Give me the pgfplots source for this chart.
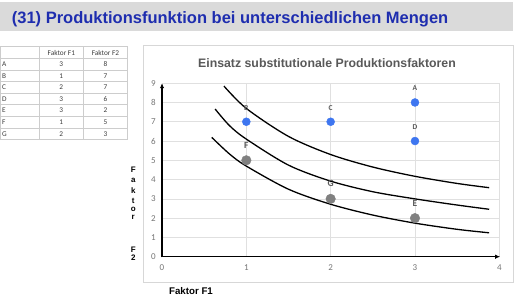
\documentclass[border=0pt]{standalone}
\usepackage{pgfplots}
\pgfplotsset{compat=1.18}
\usetikzlibrary{arrows.meta}
\usepackage{fontspec}
\setmainfont{Liberation Sans}
\newfontfamily\calib{Carlito}
\definecolor{band}{RGB}{218,218,218}
\definecolor{titleblue}{RGB}{30,45,175}
\definecolor{ptblue}{RGB}{62,118,240}
\definecolor{ptgray}{RGB}{128,128,128}
\definecolor{gridc}{RGB}{224,224,224}
\definecolor{framec}{RGB}{215,215,215}
\definecolor{tickc}{RGB}{118,118,118}
\definecolor{txtc}{RGB}{89,89,89}
\definecolor{tabline}{RGB}{205,205,205}
\definecolor{tabtxt}{RGB}{60,60,60}
\begin{document}
\begin{tikzpicture}
\useasboundingbox (0,0) rectangle (514bp,298bp);
% title band
\fill[band] (0,267bp) rectangle (513bp,296bp);
\node[anchor=base west, inner sep=0pt, font=\fontsize{16.5bp}{18bp}\selectfont\bfseries, text=titleblue] at (11.7bp,274bp) {(31) Produktionsfunktion bei unterschiedlichen Mengen};
% table
\foreach \i in {0,...,8} {
  \draw[tabline, line width=0.5bp] (0bp,{(251.3-\i*11.6)*1bp}) -- (127.7bp,{(251.3-\i*11.6)*1bp});
}
\foreach \xx in {0.3,39.3,83.3,127.4} {
  \draw[tabline, line width=0.5bp] ({\xx*1bp},251.3bp) -- ({\xx*1bp},{(251.3-8*11.6)*1bp});
}
\begin{scope}[every node/.style={font=\calib\fontsize{7.3bp}{8.5bp}\selectfont, text=tabtxt, inner sep=0pt}]
\node at (61.3bp,{(251.3-0.5*11.6)*1bp}) {Faktor F1};
\node at (105.5bp,{(251.3-0.5*11.6)*1bp}) {Faktor F2};
\foreach \r/\a/\b [count=\i] in {A/3/8, B/1/7, C/2/7, D/3/6, E/3/2, F/1/5, G/2/3} {
  \node[anchor=west] at (2bp,{(251.3-(\i+0.5)*11.6)*1bp}) {\r};
  \node at (61.3bp,{(251.3-(\i+0.5)*11.6)*1bp}) {\a};
  \node at (105.5bp,{(251.3-(\i+0.5)*11.6)*1bp}) {\b};
}
\end{scope}
% chart frame
\draw[framec, line width=0.8bp, fill=white] (143bp,16bp) rectangle (513bp,253bp);
\node[font=\fontsize{12.3bp}{14bp}\selectfont\bfseries, text=txtc] at (327bp,235.3bp) {Einsatz substitutionale Produktionsfaktoren};
% y label letters
\begin{scope}[every node/.style={font=\fontsize{8bp}{9bp}\selectfont\bfseries, text=black, inner sep=0pt}]
\node at (133.3bp,128bp) {F};
\node at (133.3bp,117.5bp) {a};
\node at (133.3bp,107bp) {k};
\node at (133.3bp,97.5bp) {t};
\node at (133.3bp,89bp) {o};
\node at (133.3bp,80.5bp) {r};
\node at (133.3bp,48.7bp) {F};
\node at (133.3bp,40.2bp) {2};
\end{scope}
\node[font=\fontsize{9.7bp}{11bp}\selectfont\bfseries, text=black, inner sep=0pt] at (191bp,7bp) {Faktor F1};
\begin{axis}[
  at={(162bp,41.3bp)}, anchor=south west,
  scale only axis, width=337.3bp, height=173.5bp,
  xmin=0, xmax=4, ymin=0, ymax=9,
  xtick={0,1,2,3,4}, ytick={0,1,2,3,4,5,6,7,8,9},
  grid=major, major grid style={gridc, line width=0.6bp},
  axis line style={draw=none},
  major tick length=0pt,
  /pgf/number format/assume math mode=true,
  tick label style={font=\calib\fontsize{9bp}{10bp}\selectfont, text=tickc},
  yticklabel style={inner sep=0pt, xshift=-6bp},
  xticklabel style={inner sep=0pt, yshift=-8bp},
  clip=false,
]
\addplot[black, line width=1.3bp, smooth, no markers] coordinates {
  (0.735,8.85) (1,7.69) (1.5,6.24) (2,5.3) (2.5,4.65) (3,4.17) (3.5,3.8) (3.88,3.58)};
\addplot[black, line width=1.3bp, smooth, no markers] coordinates {
  (0.63,7.66) (0.8,6.8) (1,6.1) (1.5,4.75) (2,3.92) (2.5,3.37) (3,3.0) (3.5,2.68) (3.88,2.46)};
\addplot[black, line width=1.3bp, smooth, no markers] coordinates {
  (0.59,6.19) (0.8,5.33) (1,4.7) (1.5,3.5) (2,2.72) (2.5,2.16) (3,1.74) (3.5,1.42) (3.88,1.24)};
\addplot[only marks, mark=*, mark size=4bp, mark options={fill=ptblue, draw=ptblue},
  point meta=explicit symbolic, nodes near coords={\pgfplotspointmeta},
  every node near coord/.style={anchor=center, yshift=14bp, inner sep=0pt,
    font=\calib\bfseries\fontsize{7.5bp}{9bp}\selectfont, text=txtc}]
  coordinates {(3,8) [A] (1,7) [B] (2,7) [C] (3,6) [D]};
\addplot[only marks, mark=*, mark size=4.8bp, mark options={fill=ptgray, draw=ptgray},
  point meta=explicit symbolic, nodes near coords={\pgfplotspointmeta},
  every node near coord/.style={anchor=center, yshift=15bp, inner sep=0pt,
    font=\calib\bfseries\fontsize{9.5bp}{11bp}\selectfont, text=txtc}]
  coordinates {(1,5) [F] (2,3) [G] (3,2) [E]};
\draw[line width=1.4bp, -{Latex[length=5bp,width=4.5bp]}] (axis cs:0,-0.04) -- (axis cs:0,9);
\draw[line width=1.4bp, -{Latex[length=5bp,width=4.5bp]}] (axis cs:0,0) -- (axis cs:4.01,0);
\end{axis}
\end{tikzpicture}
\end{document}
